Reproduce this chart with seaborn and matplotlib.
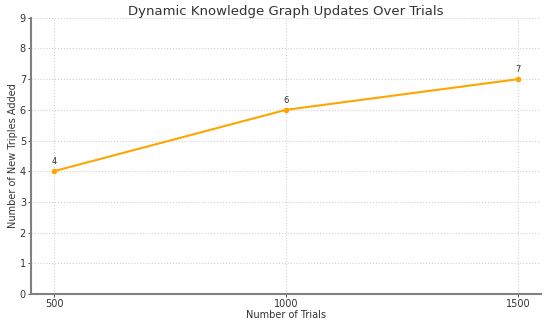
import matplotlib
matplotlib.use("Agg")
import matplotlib.pyplot as plt
import seaborn as sns
import pandas as pd

# Data
trials = [500, 1000, 1500]
new_triples = [4, 6, 7]

df = pd.DataFrame({"trials": trials, "triples": new_triples})

sns.set_theme(style="white")
plt.rcParams["font.family"] = ["DejaVu Sans"]

fig, ax = plt.subplots(figsize=(5.5, 3.24), dpi=100)

sns.lineplot(data=df, x="trials", y="triples", color="#FFA500",
             marker="o", markersize=4, markeredgewidth=0, linewidth=1.5, ax=ax)

for x, y in zip(trials, new_triples):
    ax.annotate(str(y), (x, y), textcoords="offset points", xytext=(0, 5),
                ha="center", fontsize=6, color="#333333")

ax.set_xticks(trials)
ax.set_ylim(0, 9)
ax.set_yticks(range(0, 10))
ax.set_xlim(450, 1550)

ax.grid(True, linestyle=":", color="#d0d0d0", linewidth=0.8)
for side in ["top", "right"]:
    ax.spines[side].set_visible(False)
for side in ["left", "bottom"]:
    ax.spines[side].set_color("#808080")
    ax.spines[side].set_linewidth(1.5)

ax.tick_params(axis="both", labelsize=7, colors="#333333", length=2,
               width=0.6, direction="out", left=True, bottom=True, pad=1.5)
ax.set_xlabel("Number of Trials", fontsize=7, color="#333333", labelpad=1)
ax.set_ylabel("Number of New Triples Added", fontsize=7, color="#333333", labelpad=1)
ax.set_title("Dynamic Knowledge Graph Updates Over Trials", fontsize=9.5,
             color="#333333", pad=2)

plt.subplots_adjust(left=0.056, right=0.984, top=0.945, bottom=0.093)
fig.savefig("out.png", dpi=100)
